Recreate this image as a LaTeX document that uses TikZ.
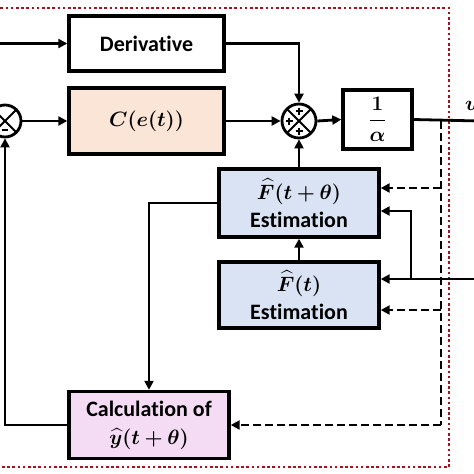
\documentclass[tikz,border=0pt]{standalone}
\usepackage{fontspec}
\usepackage{amsmath,bm}
\setmainfont[Ligatures=NoCommon]{Carlito}
\usetikzlibrary{arrows.meta,calc}
\definecolor{peach}{HTML}{FBE5D6}
\definecolor{lblue}{HTML}{DAE3F3}
\definecolor{lpink}{HTML}{F4DDF4}
\definecolor{dred}{HTML}{A0141E}
\tikzset{
  blk/.style={draw=black,line width=3.4pt,rectangle,align=center,inner sep=2pt,
    font=\fontsize{22}{25}\selectfont\bfseries},
  sumc/.style={draw=black,line width=2.8pt,circle,minimum size=#1,inner sep=0pt},
  conn/.style={line width=2.8pt,-{Triangle[length=9pt,width=9pt]}},
  plain/.style={line width=2.8pt},
  dconn/.style={line width=2.8pt,dash pattern=on 8pt off 4pt,-{Triangle[length=9pt,width=9pt]}},
  dline/.style={line width=2.8pt,dash pattern=on 8pt off 4pt},
  reddot/.style={draw=dred,line width=2.6pt,dash pattern=on 2.6pt off 2.6pt},
}
\begin{document}
\begin{tikzpicture}[x=1pt,y=-1pt]
\useasboundingbox (0,0) rectangle (474,474);
% red dotted frame
\draw[reddot] (-10,8) -- (449,8) -- (449,467) -- (-10,467);
% blocks
\node[blk,fill=white,minimum width=155pt,minimum height=55pt] (deriv) at (146.5,43.5) {Derivative};
\node[blk,fill=peach,minimum width=155pt,minimum height=66pt] (ctrl) at (146.5,121) {$\bm{C(e(t))}$};
\node[blk,fill=white,minimum width=69pt,minimum height=59pt] (alpha) at (377.5,119.5) {$\bm{\dfrac{1}{\alpha}}$};
\node[blk,fill=lblue,minimum width=160pt,minimum height=68pt] (fth) at (299,203) {$\bm{\widehat{F}(t+\theta)}$\\[3pt]Estimation};
\node[blk,fill=lblue,minimum width=160pt,minimum height=66pt] (ft) at (299,295) {$\bm{\widehat{F}(t)}$\\[3pt]Estimation};
\node[blk,fill=lpink,minimum width=160pt,minimum height=67pt] (calc) at (149,425) {Calculation of\\[3pt]$\bm{\widehat{y}(t+\theta)}$};
% summing junctions
\node[sumc=32pt] (sumL) at (5,121) {};
\draw[line width=2pt] ($(sumL.center)+(-11,-11)$) -- ($(sumL.center)+(11,11)$);
\draw[line width=2pt] ($(sumL.center)+(-11,11)$) -- ($(sumL.center)+(11,-11)$);
\draw[line width=2pt] ($(sumL.center)+(-3,9)$) -- ($(sumL.center)+(3,9)$);
\node[sumc=34pt] (sumR) at (299,121) {};
\draw[line width=2pt] ($(sumR.center)+(-12,-12)$) -- ($(sumR.center)+(12,12)$);
\draw[line width=2pt] ($(sumR.center)+(-12,12)$) -- ($(sumR.center)+(12,-12)$);
\foreach \dx/\dy in {0/-10,-10/0,0/10}{
  \draw[line width=1.8pt] ($(sumR.center)+(\dx-3.5,\dy)$) -- ($(sumR.center)+(\dx+3.5,\dy)$);
  \draw[line width=1.8pt] ($(sumR.center)+(\dx,\dy-3.5)$) -- ($(sumR.center)+(\dx,\dy+3.5)$);
}
% coordinates
\coordinate (inT) at (-5,43.5);
\coordinate (outR) at (480,121);
\coordinate (inR) at (480,279);
\coordinate (br) at (411,279);
\coordinate (dtop) at (441,121);
\coordinate (d1) at (441,188);
\coordinate (d2) at (441,310);
\coordinate (dbot) at (441,425);
% output label
\node[anchor=west,inner sep=0pt,font=\fontsize{22}{25}\selectfont] (ulab) at (465,106) {$\bm{u}$};
% connectors
\draw[conn] (inT) -- (deriv.west);
\draw[conn] (deriv.east) -| (sumR.north);
\draw[conn] (sumL.east) -- (ctrl.west);
\draw[conn] (ctrl.east) -- (sumR.west);
\draw[conn] (sumR.east) -- (alpha.west);
\draw[plain] (alpha.east) -- (outR);
\draw[conn] (fth.north) -- (sumR.south);
\draw[conn] (ft.north) -- (fth.south);
\draw[conn] (fth.west) -| (calc.north);
\draw[conn] (calc.west) -| (sumL.south);
\draw[conn] (inR) -- (inR -| ft.east);
\draw[conn] (br) |- ([yshift=-8pt]fth.east);
% dashed
\draw[dline] (dtop) -- (dbot);
\draw[dconn] (d1) -- (d1 -| fth.east);
\draw[dconn] (d2) -- (d2 -| ft.east);
\draw[dconn] (dbot) -- (dbot -| calc.east);
\end{tikzpicture}
\end{document}
